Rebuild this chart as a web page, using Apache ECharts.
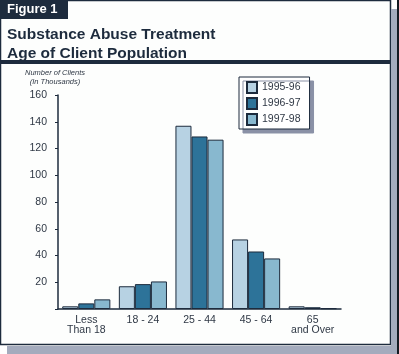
<!DOCTYPE html>
<html>
<head>
<meta charset="utf-8">
<script src="https://cdn.jsdelivr.net/npm/echarts@6/dist/echarts.min.js"></script>
<style>
  html, body { margin: 0; padding: 0; background: #ffffff; }
  #chart { width: 399px; height: 354px; }
</style>
</head>
<body>
<div id="chart"></div>
<script>
  // categories & values (thousands of clients)
  var ageGroups = ['Less\nThan 18', '18 - 24', '25 - 44', '45 - 64', '65\nand Over'];
  var years = ['1995-96', '1996-97', '1997-98'];
  var fy9596 = [2, 17, 137, 52, 2];
  var fy9697 = [4.2, 18.6, 129, 43, 1.3];
  var fy9798 = [7.2, 20.6, 126.6, 37.8, 0.6];
  var yTicks = [0, 20, 40, 60, 80, 100, 120, 140, 160];

  var navy = '#1d2b3d';
  var colors = ['#b7d2e3', '#2d7399', '#88b8cf'];
  var txt = '#2f3845';
  var font = 'Liberation Sans, Arial, sans-serif';

  var chart = echarts.init(document.getElementById('chart'));

  function barSeries(name, data, i) {
    return {
      name: name,
      type: 'bar',
      data: data,
      barGap: '0%',
      barCategoryGap: '15%',
      itemStyle: { color: colors[i], borderColor: navy, borderWidth: 1 },
      emphasis: { disabled: true }
    };
  }

  chart.setOption({
    animation: false,
    backgroundColor: '#ffffff',
    textStyle: { fontFamily: font },
    graphic: [
      // drop shadow of the frame
      { type: 'rect', shape: { x: 391, y: 9, width: 7, height: 345 }, style: { fill: '#a4abbd' }, z: 0 },
      { type: 'rect', shape: { x: 7, y: 346, width: 391, height: 8 }, style: { fill: '#a4abbd' }, z: 0 },
      { type: 'rect', shape: { x: 397, y: 0, width: 2, height: 354 }, style: { fill: '#141a22' }, z: 0 },
      // frame
      { type: 'rect', shape: { x: 0.5, y: 0.5, width: 390, height: 344 }, style: { fill: '#fdfefd', stroke: navy, lineWidth: 1.5 }, z: -1 },
      // figure tab
      { type: 'rect', shape: { x: 0, y: 0, width: 68, height: 19 }, style: { fill: navy }, z: 1 },
      { type: 'text', left: 7, top: 3, style: { text: 'Figure 1', fill: '#ffffff', font: 'bold 13px ' + font }, z: 2 },
      // title
      { type: 'text', left: 7, top: 25, style: { text: 'Substance Abuse Treatment\nAge of Client Population', fill: navy, font: 'bold 15.5px ' + font, lineHeight: 19 }, z: 2 },
      { type: 'rect', shape: { x: 0, y: 60, width: 391, height: 4 }, style: { fill: navy }, z: 1 },
      // axis title
      { type: 'text', x: 55, y: 68, style: { text: 'Number of Clients\n(In Thousands)', fill: txt, font: 'italic 7.5px ' + font, align: 'center', lineHeight: 9 }, z: 2 }
    ],
    legend: {
      data: years,
      orient: 'vertical',
      left: 239,
      top: 77,
      icon: 'rect',
      itemWidth: 10,
      itemHeight: 11,
      itemGap: 3,
      padding: [4, 9, 3, 7],
      backgroundColor: '#ffffff',
      borderColor: navy,
      borderWidth: 1,
      shadowColor: '#8a91a6',
      shadowBlur: 0,
      shadowOffsetX: 4,
      shadowOffsetY: 4,
      textStyle: { color: txt, fontSize: 10.5, fontFamily: font },
      selectedMode: false
    },
    grid: { left: 58, right: 58, top: 95, bottom: 45, containLabel: false },
    xAxis: {
      type: 'category',
      data: ageGroups,
      axisLine: { lineStyle: { color: navy, width: 1.5 } },
      axisTick: { show: false },
      axisLabel: { color: txt, fontSize: 10.5, lineHeight: 10, margin: 6, interval: 0 }
    },
    yAxis: {
      type: 'value',
      min: yTicks[0],
      max: yTicks[yTicks.length - 1],
      interval: yTicks[1] - yTicks[0],
      splitLine: { show: false },
      axisLine: { show: true, lineStyle: { color: navy, width: 1.5 } },
      axisTick: { show: true, length: 3, lineStyle: { color: navy } },
      axisLabel: {
        color: txt, fontSize: 10.5, margin: 11,
        formatter: function (v) { return v === 0 ? '' : v; }
      }
    },
    series: [
      barSeries(years[0], fy9596, 0),
      barSeries(years[1], fy9697, 1),
      barSeries(years[2], fy9798, 2)
    ]
  });
</script>
</body>
</html>
